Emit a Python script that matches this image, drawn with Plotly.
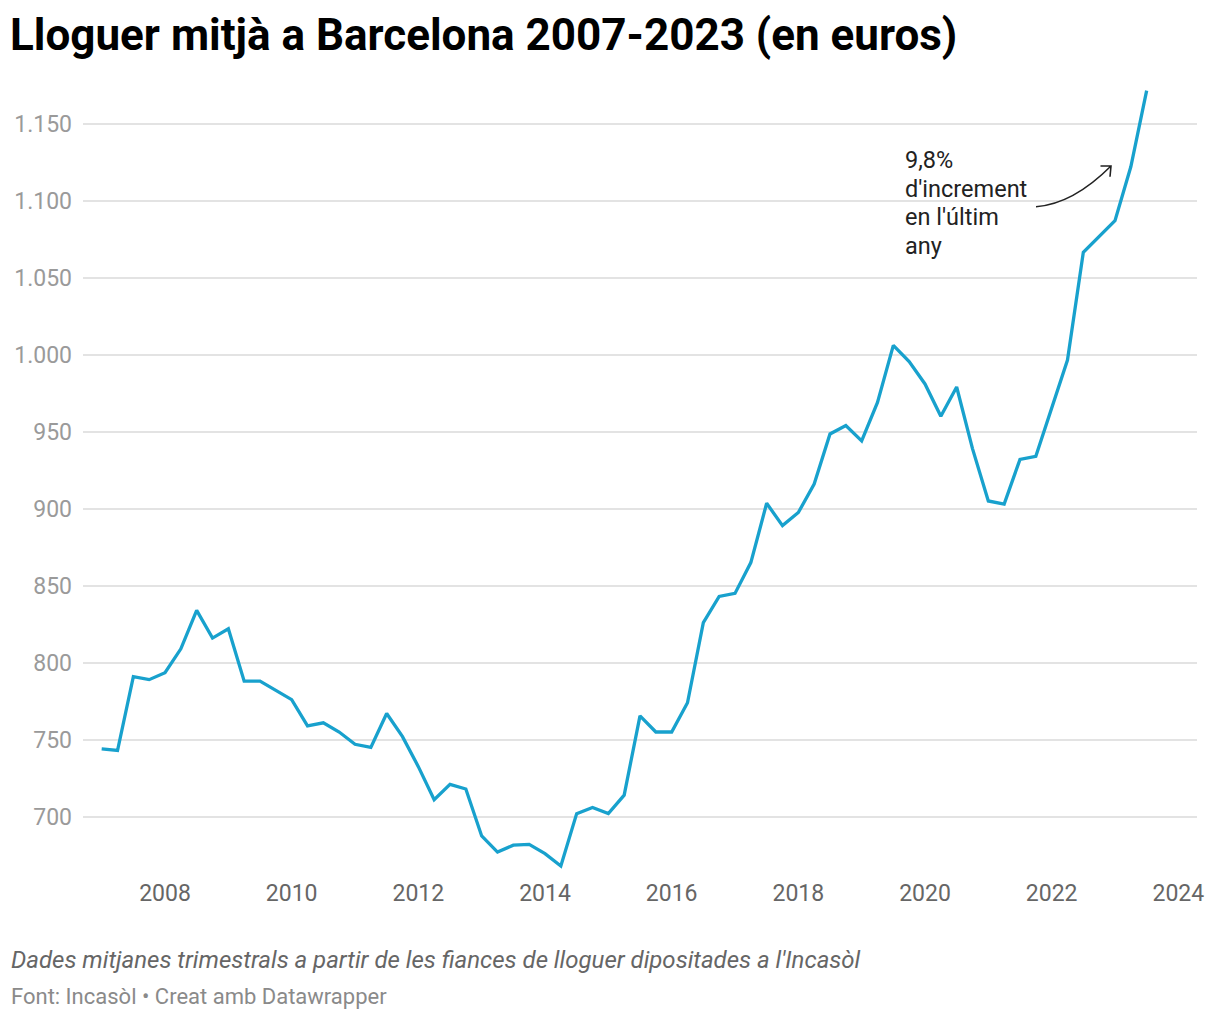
import plotly.graph_objects as go

# ---- data (quarterly average rent, euros) ----
years = list(range(2007, 2024))
quarters = [1, 2, 3, 4]
rent = [
    744, 743, 791, 789,          # 2007
    793.5, 809, 834, 816,        # 2008
    822, 788, 788, 782,          # 2009
    776, 759, 761, 755,          # 2010
    747, 745, 767, 752,          # 2011
    732.5, 711, 721, 718,        # 2012
    687.5, 677, 681.5, 682,      # 2013
    676, 668, 702, 706,          # 2014
    702, 714, 765.5, 755,        # 2015
    755, 774, 826, 843,          # 2016
    845, 865, 903.5, 889,        # 2017
    897.5, 916, 948.5, 954,      # 2018
    944, 969, 1006, 995.5,       # 2019
    981, 960, 979, 939,          # 2020
    905, 903, 932, 934,          # 2021
    965, 996.5, 1066.5, 1077,    # 2022
    1087, 1122, 1171.5,          # 2023 (Q1-Q3)
]
periods = [y + (q - 1) / 4 for y in years for q in quarters][:len(rent)]

y_ticks = [700, 750, 800, 850, 900, 950, 1000, 1050, 1100, 1150]
x_ticks = [2008, 2010, 2012, 2014, 2016, 2018, 2020, 2022, 2024]

title = "Lloguer mitjà a Barcelona 2007-2023 (en euros)"
note = "Dades mitjanes trimestrals a partir de les fiances de lloguer dipositades a l'Incasòl"
source = "Font: Incasòl • Creat amb Datawrapper"
annot_lines = ["9,8%", "d'increment", "en l'últim", "any"]

# ---- layout geometry ----
W, H = 1220, 1020
L, R, T, B = 83, 23, 85, 150
XR = [2006.705, 2024.295]
YR = [665.4, 1175.1]

def px2x(px):
    return XR[0] + (px - L) / (W - L - R) * (XR[1] - XR[0])

def px2y(py):
    return YR[1] - (py - T) / (H - T - B) * (YR[1] - YR[0])

def px2paper_x(px):
    return (px - L) / (W - L - R)

def px2paper_y(py):
    return 1 - (py - T) / (H - T - B)

FONT = "Roboto"

fig = go.Figure()
fig.add_trace(go.Scatter(
    x=periods, y=rent, mode="lines",
    line=dict(color="#18a1cd", width=3.3),
    hoverinfo="skip",
))

# curved arrow for annotation
p0 = (px2x(1036), px2y(206.7))
c = (px2x(1073), px2y(204))
p2 = (px2x(1111), px2y(166))
a1 = (px2x(1100.5), px2y(166))
a2 = (px2x(1110), px2y(176.7))
path = (f"M {p0[0]},{p0[1]} Q {c[0]},{c[1]} {p2[0]},{p2[1]} "
        f"M {a1[0]},{a1[1]} L {p2[0]},{p2[1]} L {a2[0]},{a2[1]}")
fig.add_shape(type="path", path=path, xref="x", yref="y",
              line=dict(color="#222222", width=1.6))

annotations = [
    dict(text=f"<b>{title}</b>", xref="paper", yref="paper",
         x=px2paper_x(8), y=px2paper_y(35), xanchor="left", yanchor="middle",
         showarrow=False, font=dict(family=FONT, size=44, color="#000000")),
    dict(text=f"<i>{note}</i>", xref="paper", yref="paper",
         x=px2paper_x(9), y=px2paper_y(960), xanchor="left", yanchor="middle",
         showarrow=False, font=dict(family=FONT, size=24, color="#666666")),
    dict(text=source, xref="paper", yref="paper",
         x=px2paper_x(9), y=px2paper_y(996), xanchor="left", yanchor="middle",
         showarrow=False, font=dict(family=FONT, size=22, color="#8a8a8a")),
]
for i, line in enumerate(annot_lines):
    annotations.append(dict(
        text=line, xref="x", yref="y",
        x=px2x(903), y=px2y(160 + i * 28.7), xanchor="left", yanchor="middle",
        align="left", showarrow=False,
        font=dict(family=FONT, size=23.5, color="#222222")))

fig.update_layout(
    width=W, height=H,
    margin=dict(l=L, r=R, t=T, b=B),
    paper_bgcolor="white", plot_bgcolor="white",
    showlegend=False,
    separators=",.",
    font=dict(family=FONT),
    annotations=annotations,
    xaxis=dict(
        range=XR, tickvals=x_ticks, ticktext=[str(v) for v in x_ticks],
        showgrid=False, zeroline=False, showline=False, ticks="",
        tickfont=dict(family=FONT, size=23, color="#666666"),
        ticklabelstandoff=7,
    ),
    yaxis=dict(
        range=YR, tickvals=y_ticks, tickformat=",.0f",
        showgrid=True, gridcolor="#e3e3e3", gridwidth=1.5,
        zeroline=False, showline=False, ticks="",
        tickfont=dict(family=FONT, size=23, color="#9a9a9a"),
        ticklabelstandoff=10,
    ),
)

fig.write_html("out.html")
